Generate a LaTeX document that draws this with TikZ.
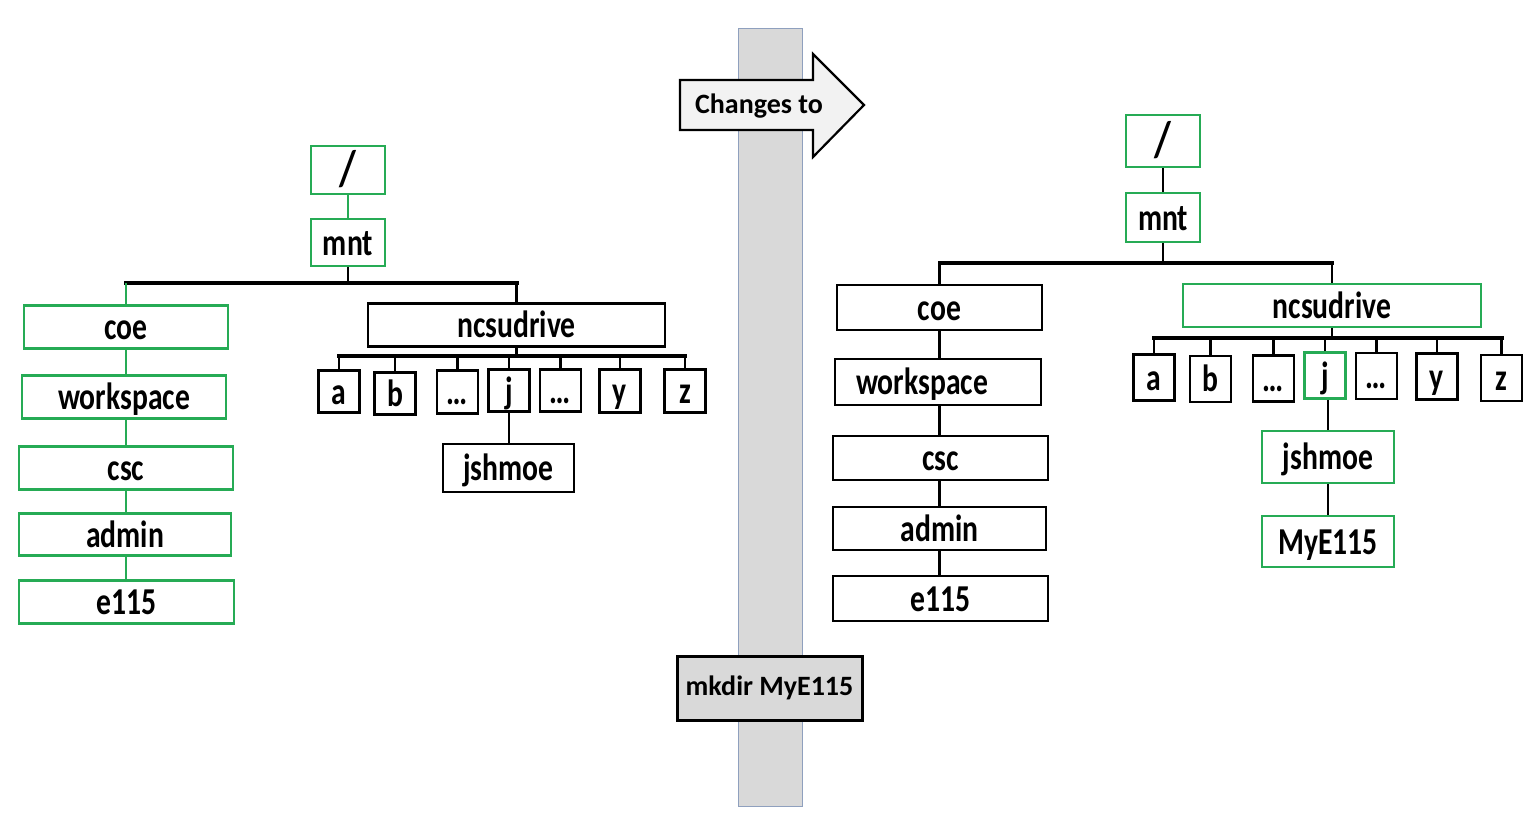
\documentclass[tikz,border=0pt]{standalone}
\usepackage{fontspec}
\setmainfont{Carlito}
\newfontfamily\condfont[FakeStretch=0.78]{Carlito}
\newcommand\lab{\condfont\bfseries\fontsize{19}{23}\selectfont}
\newcommand\slab{\condfont\bfseries\fontsize{25}{29}\selectfont}
\newcommand\blab{\bfseries\fontsize{14}{17}\selectfont}
\definecolor{tgreen}{RGB}{38,171,85}
\definecolor{barfill}{RGB}{217,217,217}
\definecolor{barline}{RGB}{143,160,190}
\definecolor{arrfill}{RGB}{242,242,242}
\tikzset{
  box/.style={draw=black, line width=1.4pt, fill=white, inner sep=0pt, font=\lab, text height=17pt, text depth=4.2pt},
  gbox/.style={box, draw=tgreen},
  rootbox/.style={gbox, font=\slab, text height=18pt, text depth=3pt},
  lbox/.style={box, minimum width=20.5pt, minimum height=21pt},
  conn/.style={line width=1.3pt, draw=black},
  gconn/.style={line width=1.3pt, draw=tgreen},
  busline/.style={line width=2pt, draw=black, line cap=rect},
}
\begin{document}
\begin{tikzpicture}[x=0.5pt,y=-0.5pt]
\useasboundingbox (0,0) rectangle (1536,819);
% middle bar
\path[fill=barfill, draw=barline, line width=0.5pt] (738,28) rectangle (802,806);
% arrow
\draw[fill=arrfill, line width=1.1pt, line join=miter] (680,80) -- (813,80) -- (813,54) -- (864,105) -- (813,157) -- (813,130) -- (680,130) -- cycle;
\node[font=\blab, inner sep=0pt] (chg) at (759,106) {Changes to};
\node[draw=black, line width=1.5pt, fill=barfill, minimum width=92.5pt, minimum height=32pt, inner sep=0pt, font=\blab] (mk) at (769.5,688) {mkdir MyE115};

% ---------- left tree ----------
\node[rootbox, minimum width=37pt, minimum height=24pt] (rootL) at (348,170) {/};
\node[gbox, minimum width=37pt, minimum height=23.5pt] (mntL) at (348,242.5) {mnt};
\node[gbox, minimum width=102pt, minimum height=21pt] (coeL) at (126,327) {coe};
\node[gbox, minimum width=102pt, minimum height=21pt] (wsL) at (124,397) {workspace};
\node[gbox, minimum width=107pt, minimum height=21pt] (cscL) at (126,468) {csc};
\node[gbox, minimum width=106pt, minimum height=20.5pt] (adminL) at (125,534.5) {admin};
\node[gbox, minimum width=107.5pt, minimum height=21pt] (eL) at (126.5,602) {e115};
\node[box, minimum width=148.5pt, minimum height=20pt] (ncsuL) at (516.5,325) {ncsudrive};
\node[lbox] (aL) at (339,391.5) {a};
\node[lbox] (bL) at (395,393.5) {b};
\node[lbox] (d1L) at (457.5,392) {…};
\node[lbox] (jL) at (509,390.5) {j};
\node[lbox] (d2L) at (560.5,390.5) {…};
\node[lbox] (yL) at (620,391) {y};
\node[lbox] (zL) at (685,391) {z};
\node[box, minimum width=65.5pt, minimum height=24pt] (jshL) at (508.5,468) {jshmoe};

\coordinate (busL) at (0,283);
\coordinate (sbL) at (0,356);
\draw[gconn] (rootL.south) -- (mntL.north);
\draw[conn] (mntL.south) -- (mntL.south |- busL);
\draw[busline] (coeL.north |- busL) -- (ncsuL.north |- busL);
\draw[gconn] (coeL.north |- busL) -- (coeL.north);
\draw[conn] (ncsuL.north |- busL) -- (ncsuL.north);
\draw[gconn] (coeL.south) -- (coeL.south |- wsL.north);
\draw[gconn] (coeL.south |- wsL.south) -- (coeL.south |- cscL.north);
\draw[gconn] (coeL.south |- cscL.south) -- (coeL.south |- adminL.north);
\draw[gconn] (coeL.south |- adminL.south) -- (coeL.south |- eL.north);
\draw[conn] (ncsuL.south) -- (ncsuL.south |- sbL);
\draw[busline] (aL.north |- sbL) -- (zL.north |- sbL);
\foreach \n in {aL,bL,d1L,jL,d2L,yL,zL} {\draw[conn] (\n.north) -- (\n.north |- sbL);}
\draw[conn] (jL.south) -- (jL.south |- jshL.north);

% ---------- right tree ----------
\node[rootbox, minimum width=37pt, minimum height=26pt] (rootR) at (1163,141) {/};
\node[gbox, minimum width=37pt, minimum height=24.5pt] (mntR) at (1163,217.5) {mnt};
\node[box, minimum width=102.5pt, minimum height=22.5pt] (coeR) at (939.5,307.5) {coe};
\node[box, minimum width=103pt, minimum height=23pt] (wsR) at (938,382) {\hspace*{-16pt}workspace};
\node[box, minimum width=107.5pt, minimum height=22pt] (cscR) at (940.5,458) {csc};
\node[box, minimum width=106.5pt, minimum height=21.5pt] (adminR) at (939.5,528.5) {admin};
\node[box, minimum width=107.5pt, minimum height=22.5pt] (eR) at (940.5,598.5) {e115};
\node[gbox, minimum width=149pt, minimum height=21.5pt] (ncsuR) at (1332,305.5) {ncsudrive};
\node[lbox, minimum height=23pt] (aR) at (1154,377.5) {a};
\node[lbox, minimum height=23pt] (bR) at (1210.5,379) {b};
\node[lbox, minimum height=23pt] (d1R) at (1273.5,378.5) {…};
\node[lbox, minimum height=23pt, draw=tgreen] (jR) at (1325,375.5) {j};
\node[lbox, minimum height=23pt] (d2R) at (1376.5,376) {…};
\node[lbox, minimum height=23pt] (yR) at (1437,376.5) {y};
\node[lbox, minimum height=23pt] (zR) at (1501.5,378) {z};
\node[gbox, minimum width=66pt, minimum height=26pt] (jshR) at (1328,457) {jshmoe};
\node[gbox, minimum width=66pt, minimum height=25.5pt] (myR) at (1328,541.5) {MyE115};

\coordinate (busR) at (0,263);
\coordinate (sbR) at (0,338);
\draw[conn] (rootR.south) -- (mntR.north);
\draw[conn] (mntR.south) -- (mntR.south |- busR);
\draw[busline] (coeR.north |- busR) -- (ncsuR.north |- busR);
\draw[conn] (coeR.north |- busR) -- (coeR.north);
\draw[conn] (ncsuR.north |- busR) -- (ncsuR.north);
\draw[conn] (coeR.south) -- (coeR.south |- wsR.north);
\draw[conn] (coeR.south |- wsR.south) -- (coeR.south |- cscR.north);
\draw[conn] (coeR.south |- cscR.south) -- (coeR.south |- adminR.north);
\draw[conn] (coeR.south |- adminR.south) -- (coeR.south |- eR.north);
\draw[conn] (ncsuR.south) -- (ncsuR.south |- sbR);
\draw[busline] (aR.north |- sbR) -- (zR.north |- sbR);
\foreach \n in {aR,bR,d1R,jR,d2R,yR,zR} {\draw[conn] (\n.north) -- (\n.north |- sbR);}
\draw[conn] (jshR.north |- jR.south) -- (jshR.north);
\draw[conn] (jshR.south) -- (myR.north);
\end{tikzpicture}
\end{document}
